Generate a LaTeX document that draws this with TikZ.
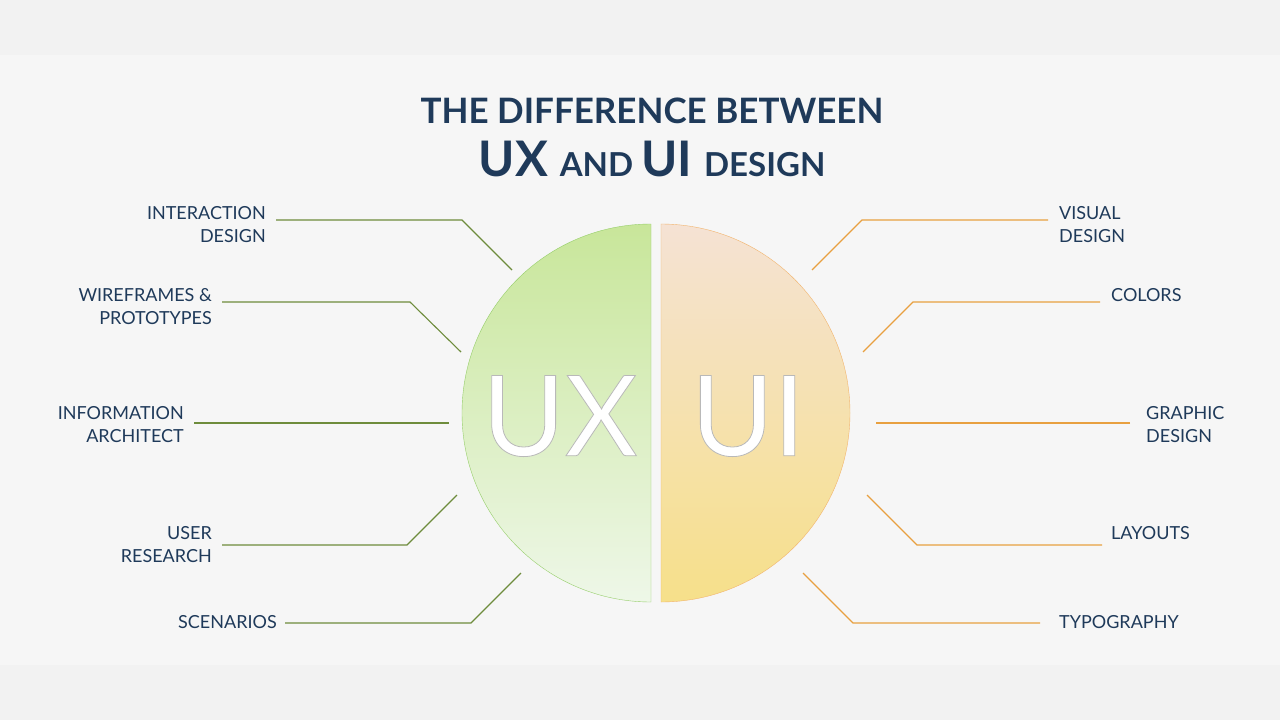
\documentclass[tikz,border=0pt]{standalone}
\usepackage{fontspec}
\setmainfont{Lato}
\definecolor{navy}{HTML}{1F3A5A}
\definecolor{gline}{HTML}{6E8C3C}
\definecolor{oline}{HTML}{E8A040}
\definecolor{gtop}{HTML}{C8E69A}
\definecolor{gmid}{HTML}{96CE6A}
\definecolor{gbot}{HTML}{EEF7E8}
\definecolor{otop}{HTML}{F5E2D4}
\definecolor{omid}{HTML}{F2B46C}
\definecolor{obot}{HTML}{F6E08A}
\tikzset{
  lbl/.style={text=navy,font=\fontsize{18}{23}\selectfont,inner sep=0pt},
  gl/.style={draw=gline,line width=1.1pt},
  ol/.style={draw=oline,line width=1.1pt},
  big/.style={text=white,font=\fontsize{112}{112}\selectfont,inner sep=0pt}
}
\newcommand{\outl}[1]{\pgfsetstrokecolor{gray!55}\special{pdf:literal 2 Tr 0.8 w}#1\special{pdf:literal 0 Tr}}
\begin{document}
\begin{tikzpicture}[x=1pt,y=-1pt]
\useasboundingbox (0,0) rectangle (1280,720);
\fill[gray!10] (0,0) rectangle (1280,720);
\fill[gray!7] (0,55) rectangle (1280,665);
% title
\node[text=navy,font=\fontsize{35}{40}\selectfont\bfseries] (t1) at (652,111) {THE DIFFERENCE BETWEEN};
\node[text=navy,anchor=base] (t2) at (652,176) {\fontsize{49}{50}\selectfont\bfseries UX \fontsize{33}{40}\selectfont AND \fontsize{49}{50}\selectfont UI \fontsize{33}{40}\selectfont DESIGN};
% halves
\shade[top color=gtop, middle color=gmid, bottom color=gbot, draw=gmid]
  (651,602) arc (90:270:189) -- cycle;
\shade[top color=otop, middle color=omid, bottom color=obot, draw=omid]
  (661,602) arc (90:-90:189) -- cycle;
\node[big] (ux) at (560,416) {\outl{UX}};
\node[big] (ui) at (748,416) {\outl{UI}};
% left labels
\node[lbl,align=right,anchor=east] (l1) at (266,225) {INTERACTION\\DESIGN};
\node[lbl,align=right,anchor=east] (l2) at (212,307) {WIREFRAMES \&\\PROTOTYPES};
\node[lbl,align=right,anchor=east] (l3) at (184,425) {INFORMATION\\ARCHITECT};
\node[lbl,align=right,anchor=east] (l4) at (212,545) {USER\\RESEARCH};
\node[lbl,align=right,anchor=east] (l5) at (277,622) {SCENARIOS};
% right labels
\node[lbl,align=left,anchor=west] (r1) at (1059,225) {VISUAL\\DESIGN};
\node[lbl,align=left,anchor=west] (r2) at (1111,295) {COLORS};
\node[lbl,align=left,anchor=west] (r3) at (1146,425) {GRAPHIC\\DESIGN};
\node[lbl,align=left,anchor=west] (r4) at (1111,533) {LAYOUTS};
\node[lbl,align=left,anchor=west] (r5) at (1059,622) {TYPOGRAPHY};
% coordinates
\coordinate (a1) at (276,220); \coordinate (b1) at (512,270);
\coordinate (a2) at (222,302); \coordinate (b2) at (461,352);
\coordinate (a3) at (194,423); \coordinate (b3) at (449,423);
\coordinate (a4) at (222,545); \coordinate (b4) at (457,495);
\coordinate (a5) at (285,623); \coordinate (b5) at (521,573);
\coordinate (c1) at (1048,220); \coordinate (d1) at (812,270);
\coordinate (c2) at (1100,302); \coordinate (d2) at (863,352);
\coordinate (c3) at (1130,423); \coordinate (d3) at (876,423);
\coordinate (c4) at (1102,545); \coordinate (d4) at (867,495);
\coordinate (c5) at (1040,623); \coordinate (d5) at (803,573);
\draw[gl] (a1) -- (462,220) -- (b1);
\draw[gl] (a2) -- (410,302) -- (b2);
\draw[gl] (a3) -- (b3);
\draw[gl] (a4) -- (407,545) -- (b4);
\draw[gl] (a5) -- (471,623) -- (b5);
\draw[ol] (c1) -- (862,220) -- (d1);
\draw[ol] (c2) -- (913,302) -- (d2);
\draw[ol] (c3) -- (d3);
\draw[ol] (c4) -- (917,545) -- (d4);
\draw[ol] (c5) -- (853,623) -- (d5);
\end{tikzpicture}
\end{document}
